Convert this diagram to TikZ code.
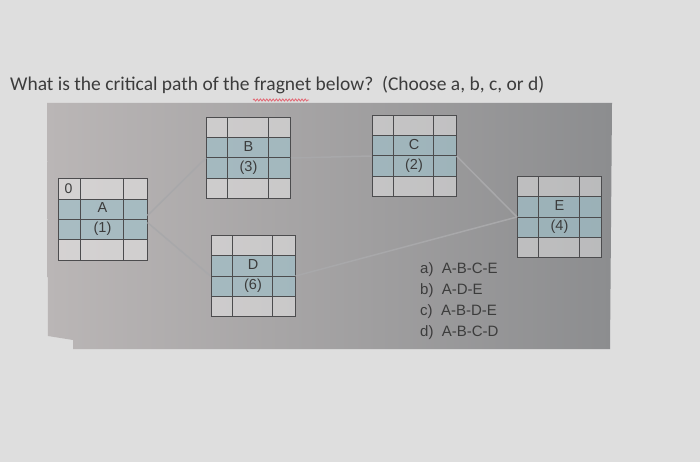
\documentclass[tikz,border=0pt]{standalone}
\usepackage{fontspec}
\setmainfont{Liberation Sans}
\newfontfamily\titlefont{Carlito}
\usetikzlibrary{calc,decorations.pathmorphing}

\definecolor{pagegray}{RGB}{222,222,222}
\definecolor{photoleft}{RGB}{186,182,182}
\definecolor{photoright}{RGB}{140,141,143}
\definecolor{rowblue}{RGB}{125,168,180}
\definecolor{gridgray}{RGB}{76,76,78}
\definecolor{linkgray}{RGB}{168,168,170}
\definecolor{inkgray}{RGB}{60,60,60}
\definecolor{squiggle}{RGB}{226,110,122}

\tikzset{
  actbox/.style={rectangle, draw=gridgray, line width=1pt,
    fill=white, fill opacity=0.4, text opacity=1,
    minimum width=84pt, minimum height=81pt, inner sep=0pt,
    align=center, text=inkgray, font=\fontsize{14.5}{20}\selectfont,
    path picture={
      \coordinate (nw) at (path picture bounding box.north west);
      \coordinate (se) at (path picture bounding box.south east);
      \coordinate (ne) at (se|-nw);
      \coordinate (sw) at (nw|-se);
      % the two blue rows in the middle
      \fill[rowblue, fill opacity=0.5] ($(nw)!.25!(sw)$) rectangle ($(ne)!.75!(se)$);
      % rows and columns
      \foreach \f in {0.25,0.5,0.75}
        \draw[gridgray, line width=1pt, draw opacity=1] ($(nw)!\f!(sw)$) -- ($(ne)!\f!(se)$);
      \foreach \f in {0.255,0.735}
        \draw[gridgray, line width=1pt, draw opacity=1] ($(nw)!\f!(ne)$) -- ($(sw)!\f!(se)$);
    }},
  link/.style={linkgray, line width=1.5pt},
  answer/.style={anchor=west, inner sep=0pt, text=inkgray, font=\fontsize{15}{17}\selectfont}
}

\begin{document}
\begin{tikzpicture}[x=1pt, y=-1pt]
  % page and photo
  \fill[pagegray] (0,0) rectangle (700,462);
  \shade[left color=photoleft, right color=photoright]
    (47,103) -- (612,103) -- (610,349) -- (73,349) -- (73,340) -- (48,336) -- cycle;
  \useasboundingbox (0,0) rectangle (700,462);

  % question
  \node[anchor=west, inner sep=0pt, text=inkgray, font=\titlefont\fontsize{19.5}{22}\selectfont]
    (question) at (10,85) {What is the critical path of the fragnet below?\ \ (Choose a, b, c, or d)};
  \draw[squiggle, line width=0.9pt, decorate,
    decoration={snake, segment length=3.2pt, amplitude=1pt}] (253,100) -- (309,100);

  % activities
  \node[actbox, minimum width=89pt] (A) at (102.5,219.5) {A\\(1)};
  \node[actbox] (B) at (248.5,158) {B\\(3)};
  \node[actbox] (C) at (414,156) {C\\(2)};
  \node[actbox] (D) at (253,276) {D\\(6)};
  \node[actbox] (E) at (559.5,217) {E\\(4)};
  \node[text=inkgray, font=\fontsize{14}{16}\selectfont, inner sep=0pt]
    (start) at ($(A.north west)+(11,10)$) {0};

  % links
  \draw[link] ([yshift=4pt]A.east) -- (B.west);
  \draw[link] ([yshift=-3pt]A.east) -- (D.west);
  \draw[link] (B.east) -- (C.west);
  \draw[link] (C.east) -- (E.west);
  \draw[link] (D.east) -- (E.west);

  % choices
  \node[answer] (opta) at (420,270) {a)\ \ A-B-C-E};
  \node[answer] (optb) at (420,291) {b)\ \ A-D-E};
  \node[answer] (optc) at (420,312) {c)\ \ A-B-D-E};
  \node[answer] (optd) at (420,333) {d)\ \ A-B-C-D};
\end{tikzpicture}
\end{document}
